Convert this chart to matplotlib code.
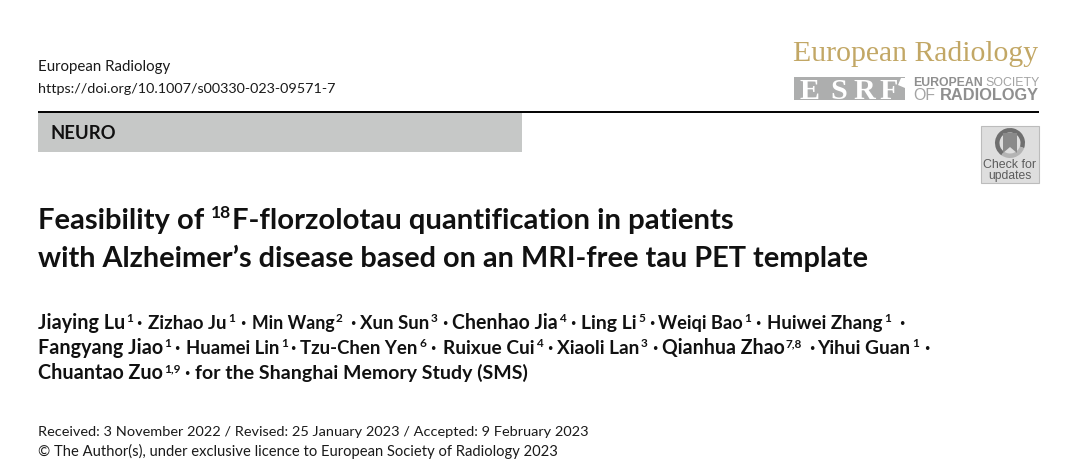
import matplotlib
matplotlib.use("Agg")
import matplotlib.pyplot as plt
from matplotlib.patches import Rectangle, Wedge, Polygon

journal_left = "European Radiology"
doi = "https://doi.org/10.1007/s00330-023-09571-7"
section = "NEURO"
journal_logo = "European Radiology"
society_1 = ["EUROPEAN", "SOCIETY"]
society_2 = ["OF", "RADIOLOGY"]
mark_letters = ["E", "S", "R", "F"]
badge = ["Check for", "updates"]
title_1 = ["Feasibility of", "18", "F-florzolotau quantification in patients"]
title_2 = "with Alzheimer\u2019s disease based on an MRI-free tau PET template"
authors_1 = [("Jiaying Lu", "1"), ("Zizhao Ju", "1"), ("Min Wang", "2"), ("Xun Sun", "3"),
             ("Chenhao Jia", "4"), ("Ling Li", "5"), ("Weiqi Bao", "1"), ("Huiwei Zhang", "1")]
authors_2 = [("Fangyang Jiao", "1"), ("Huamei Lin", "1"), ("Tzu-Chen Yen", "6"), ("Ruixue Cui", "4"),
             ("Xiaoli Lan", "3"), ("Qianhua Zhao", "7,8"), ("Yihui Guan", "1")]
authors_3 = [("Chuantao Zuo", "1,9")]
group = "for the Shanghai Memory Study (SMS)"
dates = "Received: 3 November 2022 / Revised: 25 January 2023 / Accepted: 9 February 2023"
copyright_line = "\u00a9 The Author(s), under exclusive licence to European Society of Radiology 2023"

FONT = "Lato"
INK = "#111111"
fig = plt.figure(figsize=(10.8, 4.74), dpi=100, facecolor="white")
ax = fig.add_axes([0, 0, 1, 1])
ax.set_xlim(0, 1080)
ax.set_ylim(474, 0)
ax.axis("off")
rend = fig.canvas.get_renderer()


def put(x, y, s, size, color="#1a1a1a", weight="normal", family=FONT, ha="left"):
    return ax.text(x, y, s, fontsize=size * 0.72, color=color, fontweight=weight,
                   family=family, ha=ha, va="baseline")


def width(t):
    return t.get_window_extent(rend).width


def fit(x, y, s, x_end, size, **kw):
    t = put(x, y, s, size, **kw)
    t.set_fontsize(t.get_fontsize() * (x_end - x) / width(t))
    return t


def names(starts, ends, dots, y, people, size=19.5):
    for x0, x1, xd, (name, sup) in zip(starts, ends, dots, people):
        fit(x0, y, name, x1, size, weight="bold", color=INK)
        put(x1 + 1, y - size * 0.36, sup, size * 0.6, weight="bold", color=INK)
        put(xd, y, "\u00b7", size, weight="bold", color=INK, ha="center")


fit(38, 71, journal_left, 171, 14.5)
fit(38, 93, doi, 335, 14.5)
ax.add_patch(Rectangle((38, 113), 484, 39, fc="#c6c8c7", ec="none"))
ax.plot([38, 1039], [111.5, 111.5], color="#000000", lw=1.4, solid_capstyle="butt")
fit(50, 139, section, 115, 16, weight="bold", color=INK)

fit(793, 61, journal_logo, 1039, 28, color="#c2a765", family="Liberation Serif")

# society mark
ax.add_patch(Rectangle((794, 77), 111, 23, fc="#adaeae", ec="none"))
for xc, letter in zip([810, 838.5, 864, 889], mark_letters):
    ax.text(xc, 99, letter, fontsize=30 * 0.72, family="Liberation Serif", fontweight="bold",
            color="white", ha="center", va="baseline")
ax.add_patch(Polygon([(898, 85), (901, 78), (905, 78), (905, 88)], fc="white", ec="none"))

fit(913, 85.5, society_1[0], 982, 11.5, color="#8f8f8f", family="Liberation Sans", weight="bold")
fit(985, 85.5, society_1[1], 1039, 11.5, color="#a3a3a3", family="Liberation Sans")
fit(913, 99.5, society_2[0], 935, 13.5, color="#a3a3a3", family="Liberation Sans")
fit(940, 99.5, society_2[1], 1039, 13.5, color="#8f8f8f", family="Liberation Sans", weight="bold")

# badge
ax.add_patch(Rectangle((980.5, 125.5), 58, 57, fc="#dedede", ec="#bcbcbc", lw=0.8))
ax.add_patch(Wedge((1010, 143), 15, 125, 20, width=4.5, fc="#6f6f6f", ec="none"))
ax.add_patch(Wedge((1010, 143), 15, 20, 125, width=4.5, fc="#b4b4b4", ec="none"))
ax.add_patch(Polygon([(1003, 133), (1017, 133), (1017, 153), (1010, 147), (1003, 153)],
                     fc="#8a8a8a", ec="none"))
fit(983, 168, badge[0], 1036, 11.5, color="#5c5c5c", family="Liberation Sans")
fit(988, 179, badge[1], 1031, 11.5, color="#5c5c5c", family="Liberation Sans")

fit(38, 229, title_1[0], 204, 28.8, weight="bold", color=INK)
put(211, 218, title_1[1], 17.5, weight="bold", color=INK)
fit(232, 229, title_1[2], 734, 28.8, weight="bold", color=INK)
fit(38, 267, title_2, 865, 28.8, weight="bold", color=INK)

names([38, 148, 252, 360, 452, 581, 658, 767],
      [125, 227, 335, 430, 558, 637, 743, 883],
      [139, 243, 353, 445, 573, 652, 758, 902], 329, authors_1)
names([38, 186, 300, 443, 557, 662, 817],
      [163, 280, 418, 535, 640, 785, 911],
      [177, 293, 433, 550, 655, 812, 927], 354, authors_2)
names([38], [163], [187], 379, authors_3)
fit(195, 379, group, 527, 19.5, weight="bold", color=INK)

fit(38, 436, dates, 588, 14.5)
fit(38, 456, copyright_line, 559, 14.5)

fig.savefig("out.png", dpi=100, facecolor="white")
